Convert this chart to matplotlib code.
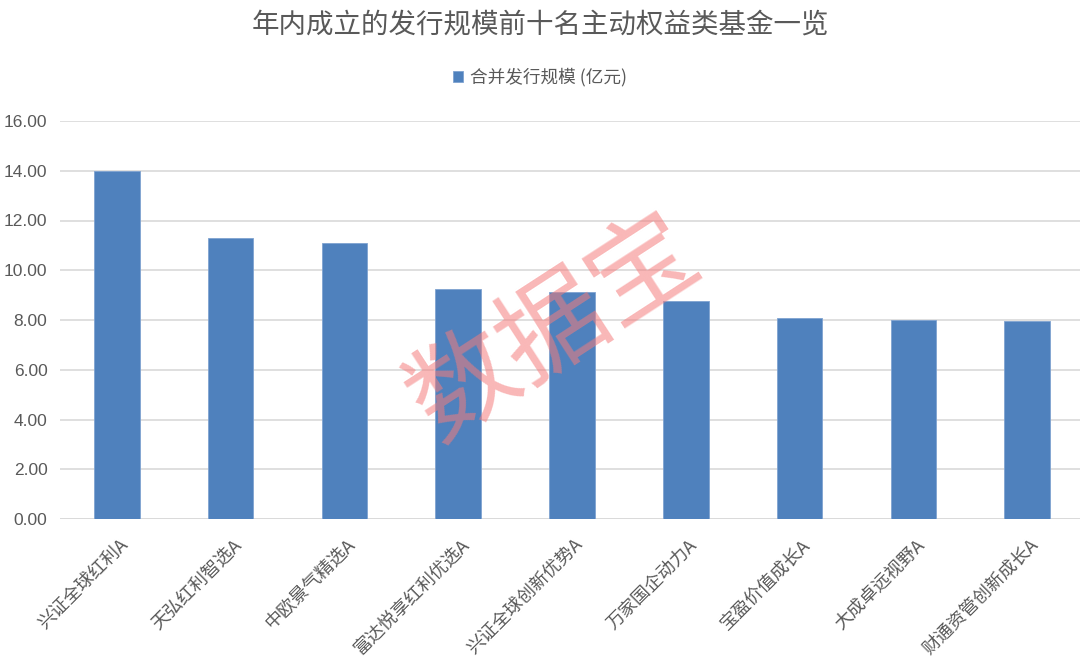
import matplotlib
matplotlib.use("Agg")
import matplotlib.pyplot as plt
import matplotlib.transforms as mtransforms

plt.rcParams['font.family'] = ['Noto Sans CJK SC', 'DejaVu Sans']

title = "年内成立的发行规模前十名主动权益类基金一览"
series_name = "合并发行规模 (亿元)"
funds = ["兴证全球红利A", "天弘红利智选A", "中欧景气精选A", "富达悦享红利优选A",
         "兴证全球创新优势A", "万家国企动力A", "宝盈价值成长A", "大成卓远视野A",
         "财通资管创新成长A"]
values = [14.00, 11.28, 11.08, 9.25, 9.14, 8.78, 8.10, 7.99, 7.95]
yticks = [0, 2, 4, 6, 8, 10, 12, 14, 16]

W, H = 1080, 657
fig = plt.figure(figsize=(W / 100, H / 100), dpi=100)
ax = fig.add_axes([60 / W, 1 - 519 / H, (1080 - 60) / W, (519 - 121) / H])

x = list(range(len(funds)))
ax.bar(x, values, width=0.4, color="#4F81BD", edgecolor="#7FA3D1", linewidth=0.6,
       zorder=3, label=series_name)
ax.set_xlim(-0.5, 8.465)
ax.set_ylim(0, 16)
ax.set_yticks(yticks)
ax.set_yticklabels([f"{v:.2f}" for v in yticks], fontsize=12.5, color="#595959",
                   family=['Liberation Sans', 'DejaVu Sans'])
ax.yaxis.grid(True, color="#D9D9D9", linewidth=1.2, zorder=0)
ax.tick_params(axis='y', length=0, pad=9)
ax.tick_params(axis='x', length=0, pad=12)
ax.set_xticks(x)
ax.set_xticklabels(funds, rotation=45, ha='right', rotation_mode='anchor',
                   fontsize=13, color="#595959")
offset = mtransforms.ScaledTranslation(2 / 100, 0, fig.dpi_scale_trans)
for lbl in ax.get_xticklabels():
    lbl.set_transform(lbl.get_transform() + offset)
for s in ax.spines.values():
    s.set_visible(False)
ax.axhline(0, color="#D9D9D9", linewidth=1.2, zorder=1)

fig.text(0.5, 1 - 25 / H, title, ha='center', va='center', fontsize=19.8, color="#595959")
leg = fig.legend(loc='center', bbox_to_anchor=(0.5, 1 - 77 / H), frameon=False,
                 fontsize=12.7, handlelength=0.6, handleheight=0.6, handletextpad=0.4)
for t in leg.get_texts():
    t.set_color("#595959")

fig.text(555 / W, 1 - 328 / H, "数据宝", ha='center', va='center', fontsize=77,
         color="#F47C7C", alpha=0.55, rotation=33, zorder=10)

fig.savefig("out.png", dpi=100)
